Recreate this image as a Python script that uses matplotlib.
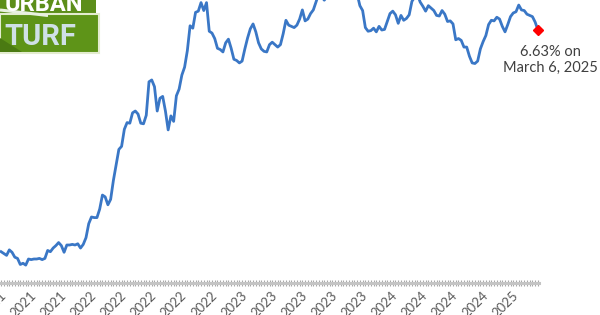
import matplotlib
matplotlib.use("Agg")
import matplotlib.pyplot as plt
from matplotlib.patches import Polygon, Rectangle

# 30-year fixed mortgage rate, weekly (Jun 2021 - Mar 6, 2025)
rates_2021 = [2.99, 2.96, 2.93, 3.02, 2.98, 2.90, 2.88, 2.78, 2.80, 2.77, 2.87,
              2.86, 2.87, 2.87, 2.88, 2.86, 2.88, 3.01, 2.99, 3.05, 3.09, 3.14,
              3.09, 2.98, 3.10, 3.10, 3.11, 3.10, 3.12, 3.05, 3.11]
rates_2022 = [3.22, 3.45, 3.56, 3.55, 3.55, 3.69, 3.92, 3.89, 3.76, 3.85, 4.16,
              4.42, 4.67, 4.72, 5.00, 5.11, 5.10, 5.27, 5.30, 5.25, 5.10, 5.09,
              5.23, 5.78, 5.81, 5.70, 5.30, 5.51, 5.54, 5.30, 4.99, 5.22, 5.13,
              5.55, 5.66, 5.89, 6.02, 6.29, 6.70, 6.66, 6.92, 6.94, 7.08, 6.95,
              7.08, 6.61, 6.58, 6.49, 6.33, 6.31, 6.27, 6.42]
rates_2023 = [6.48, 6.33, 6.15, 6.13, 6.09, 6.12, 6.32, 6.50, 6.65, 6.73, 6.60,
              6.42, 6.32, 6.28, 6.27, 6.39, 6.43, 6.39, 6.35, 6.39, 6.57, 6.79,
              6.71, 6.69, 6.67, 6.71, 6.81, 6.96, 6.78, 6.81, 6.90, 6.96, 7.09,
              7.23, 7.18, 7.12, 7.18, 7.19, 7.31, 7.49, 7.57, 7.63, 7.79, 7.76,
              7.50, 7.44, 7.29, 7.22, 7.03, 6.95, 6.67, 6.61]
rates_2024 = [6.62, 6.66, 6.60, 6.69, 6.63, 6.64, 6.77, 6.90, 6.94, 6.88, 6.74,
              6.87, 6.79, 6.82, 6.88, 7.10, 7.17, 7.22, 7.09, 7.02, 6.94, 7.03,
              6.99, 6.95, 6.87, 6.86, 6.95, 6.89, 6.77, 6.78, 6.73, 6.47, 6.49,
              6.46, 6.35, 6.35, 6.20, 6.09, 6.08, 6.12, 6.32, 6.44, 6.54, 6.72,
              6.79, 6.78, 6.84, 6.81, 6.69, 6.60, 6.72, 6.85]
rates_2025 = [6.91, 6.93, 7.04, 6.96, 6.95, 6.89, 6.87, 6.85, 6.76, 6.63]

rates = rates_2021 + rates_2022 + rates_2023 + rates_2024 + rates_2025
weeks = list(range(len(rates)))

tick_labels = ["2021", "2021", "2021", "2022", "2022", "2022", "2022", "2022",
               "2023", "2023", "2023", "2023", "2023", "2024", "2024", "2024",
               "2024", "2025"]
last_label = "6.63% on\nMarch 6, 2025"

fig = plt.figure(figsize=(6, 3.15), dpi=100)
ax = fig.add_axes([0, 32 / 315, 539 / 600, 283 / 315])

ax.plot(weeks, rates, color="#3A77C6", lw=2.0, solid_joinstyle="round")
ax.plot(weeks[-1], rates[-1], marker="D", ms=5, color="#FF0000",
        mec="#FF0000", clip_on=False, zorder=4)
ax.annotate(last_label, (weeks[-1], rates[-1]), xytext=(13, -30),
            textcoords="offset pixels", ha="center", va="center",
            multialignment="center", fontsize=10.5, color="#404040",
            family="Lato", annotation_clip=False)

ax.set_xlim(-0.4, len(rates) - 0.6)
ax.set_ylim(2.476, 7.123)

for s in ["left", "top", "right"]:
    ax.spines[s].set_visible(False)
ax.spines["bottom"].set_color("#C4C4C4")
ax.spines["bottom"].set_linewidth(2.2)
ax.set_yticks([])

ax.set_xticks(weeks, minor=True)
ax.set_xticks(weeks[1::11])
ax.set_xticklabels(tick_labels, rotation=45, ha="right", va="center",
                   rotation_mode="anchor", fontsize=9.5, color="#595959",
                   family="Lato")
ax.tick_params(axis="x", which="both", direction="inout", length=5,
               width=0.8, color="#A8A8A8", pad=5)

# Urban Turf logo, top left corner
lg = fig.add_axes([0, 0, 1, 1], zorder=5)
lg.set_xlim(0, 600)
lg.set_ylim(315, 0)
lg.axis("off")
lg.patch.set_alpha(0)
lg.add_patch(Polygon([(0, 0), (96, 0), (96, 13), (0, 13)], closed=True,
                     fc="#5C8E1A", ec="none"))
lg.text(44, 11, "URBAN", color="white", fontsize=17, fontweight="bold",
        family="Roboto", ha="center", va="baseline")
lg.add_patch(Rectangle((0, 14), 99, 39, fc="#5E9418", ec="#E3ECCF", lw=1.5))
lg.add_patch(Polygon([(0, 38), (22, 52), (0, 52)], closed=True,
                     fc="#4A7A12", ec="none"))
lg.plot([0, 48], [10, 15.5], color="#E8F0E0", lw=2.2, solid_capstyle="butt")
lg.text(40, 45, "TURF", color="#CFE0E6", fontsize=21, fontweight="bold",
        family="Roboto", ha="center", va="baseline")

fig.savefig("out.png", dpi=100)
